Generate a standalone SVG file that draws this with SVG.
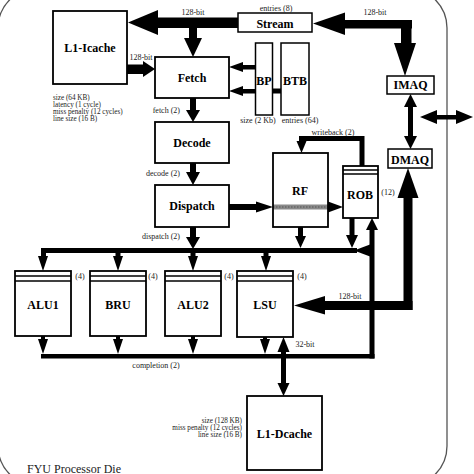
<svg xmlns="http://www.w3.org/2000/svg" width="474" height="474" viewBox="0 0 474 474">
<style>
.box{fill:#fff;stroke:#000;stroke-width:1.8}
.q{fill:none;stroke:#000;stroke-width:1.5}
.t{font-family:"Liberation Serif",serif;font-weight:bold;font-size:12px;fill:#000;text-anchor:middle}
.s{font-family:"Liberation Serif",serif;font-size:8px;fill:#222}
.i{font-size:7.2px}
.m{text-anchor:middle}
.e{text-anchor:end}
.k{fill:#000;stroke:none}
.w{fill:none;stroke:#000;stroke-width:5}
</style>
<rect width="474" height="474" fill="#fff"/>
<g id="die">
<path d="M38,-12 H407 A40,40 0 0 1 447,28 V446 A40,40 0 0 1 407,486 H38 A40,40 0 0 1 -2,446 V28 A40,40 0 0 1 38,-12 Z" fill="none" stroke="#555" stroke-width="1.3"/>
<text x="27" y="472.5" font-family="Liberation Serif,serif" font-size="12" fill="#222">FYU Processor Die</text>
</g>
<g id="connectors">
<rect class="k" x="157" y="17.5" width="82" height="10.5"/>
<polygon class="k" points="158,10 128,22.5 158,35"/>
<rect class="k" x="189" y="27" width="8" height="12"/>
<polygon class="k" points="184,38 202,38 193,57"/>
<rect class="k" x="127" y="64.5" width="17" height="9.5"/>
<polygon class="k" points="143,61 155,69 143,77"/>
<rect class="k" x="190" y="98" width="6" height="13"/>
<polygon class="k" points="186,110 200,110 193,122"/>
<rect class="k" x="190" y="163" width="6" height="10"/>
<polygon class="k" points="186,172 200,172 193,185"/>
<rect class="k" x="190" y="227" width="6" height="11"/>
<polygon class="k" points="186,237 200,237 193,249"/>
<rect class="k" x="41" y="248" width="316" height="5"/>
<polygon class="k" points="370,244.5 354,250.5 370,256.5"/>
<rect class="k" x="41" y="250" width="5" height="8"/>
<polygon class="k" points="38,256 48,256 43,271"/>
<rect class="k" x="115.5" y="250" width="5" height="8"/>
<polygon class="k" points="113,256 123,256 118,271"/>
<rect class="k" x="190.5" y="250" width="5" height="8"/>
<polygon class="k" points="188,256 198,256 193,271"/>
<rect class="k" x="263.5" y="250" width="5" height="8"/>
<polygon class="k" points="261,256 271,256 266,271"/>
<rect class="k" x="229" y="204" width="28" height="6"/>
<polygon class="k" points="256,201.5 256,212.5 273,207"/>
<rect x="273" y="204.5" width="55" height="5" fill="#8a8a8a"/>
<line x1="273" y1="207" x2="328" y2="207" stroke="#555" stroke-width="1.2" stroke-dasharray="1.5,1.5"/>
<polygon class="k" points="328,201.5 328,212.5 343,207"/>
<polyline class="w" points="362,166 362,138.5 301.5,138.5 301.5,142"/>
<polygon class="k" points="296.5,141 306.5,141 301.5,153"/>
<rect class="k" x="298" y="227" width="5" height="10"/>
<polygon class="k" points="295,236 306,236 300.5,248"/>
<rect class="k" x="349.5" y="218" width="5" height="18"/>
<polygon class="k" points="346,235 358,235 352,248"/>
<rect class="k" x="369.5" y="228" width="5" height="130.5"/>
<polygon class="k" points="366,230 378,230 372,218"/>
<rect class="k" x="41" y="354" width="333.5" height="4.5"/>
<rect class="k" x="41" y="336" width="4" height="5"/>
<polygon class="k" points="38,339 48,339 43,354"/>
<rect class="k" x="116" y="336" width="4" height="5"/>
<polygon class="k" points="113,339 123,339 118,354"/>
<rect class="k" x="191" y="336" width="4" height="5"/>
<polygon class="k" points="188,339 198,339 193,354"/>
<rect class="k" x="263" y="336" width="4" height="5"/>
<polygon class="k" points="260,339 270,339 265,354"/>
<rect class="k" x="281" y="350" width="5" height="34"/>
<polygon class="k" points="277.5,352 289.5,352 283.5,337"/>
<polygon class="k" points="277.5,383 289.5,383 283.5,396"/>
<rect class="k" x="242" y="65" width="14" height="4.5"/>
<polygon class="k" points="243,62 243,72 229,67"/>
<rect class="k" x="242" y="89" width="14" height="4.5"/>
<polygon class="k" points="243,86 243,96 229,91"/>
<rect class="k" x="272" y="88.5" width="9.5" height="5"/>
<rect class="k" x="344" y="20" width="68" height="8.5"/>
<polygon class="k" points="345,12.5 345,35 313,23.5"/>
<rect class="k" x="401" y="20" width="10.5" height="24"/>
<polygon class="k" points="394,43 416,43 405,76"/>
<rect class="k" x="408" y="106" width="5" height="31"/>
<polygon class="k" points="404,107 417,107 410.5,94"/>
<polygon class="k" points="404,136 417,136 410.5,149"/>
<polygon class="k" points="397.5,198 418.5,198 408,168"/>
<rect class="k" x="403.5" y="197" width="9" height="113"/>
<rect class="k" x="324" y="301" width="88.5" height="9"/>
<polygon class="k" points="325,296 325,314.5 294,305.5"/>
<rect class="k" x="436" y="115" width="22" height="4.5"/>
<polygon class="k" points="437,110 437,124 420,117"/>
<polygon class="k" points="456,110 456,124 473,117"/>
</g>
<g id="labels">
<text class="s m" x="193" y="15">128-bit</text>
<text class="s m" x="141" y="60">128-bit</text>
<text class="s m" x="276" y="10.5">entries (8)</text>
<text class="s m" x="375" y="14.5">128-bit</text>
<text class="s i" x="53" y="99.5">size (64 KB)</text>
<text class="s i" x="53" y="106.6">latency (1 cycle)</text>
<text class="s i" x="53" y="113.7">miss penalty (12 cycles)</text>
<text class="s i" x="53" y="120.8">line size (16 B)</text>
<text class="s e" x="180" y="112.5">fetch (2)</text>
<text class="s e" x="180" y="175.5">decode (2)</text>
<text class="s e" x="180" y="239">dispatch (2)</text>
<text class="s m" x="258" y="123">size (2 Kb)</text>
<text class="s m" x="300" y="123">entries (64)</text>
<text class="s m" x="333" y="135">writeback (2)</text>
<text class="s m" x="388" y="195">(12)</text>
<text class="s m" x="80" y="279">(4)</text>
<text class="s m" x="153" y="279">(4)</text>
<text class="s m" x="229" y="279">(4)</text>
<text class="s m" x="302" y="279">(4)</text>
<text class="s m" x="350" y="298.5">128-bit</text>
<text class="s m" x="305" y="347">32-bit</text>
<text class="s m" x="156" y="368">completion (2)</text>
<text class="s e i" x="242" y="422.5">size (128 KB)</text>
<text class="s e i" x="242" y="429.8">miss penalty (12 cycles)</text>
<text class="s e i" x="242" y="437.1">line size (16 B)</text>
</g>
<g id="l1icache"><rect class="box" x="53" y="11" width="74" height="73"/><text class="t" x="90" y="52">L1-Icache</text></g>
<g id="stream"><rect class="box" x="238" y="13" width="74" height="19" style="stroke-width:1.5"/><text class="t" x="275" y="27.5">Stream</text></g>
<g id="fetch"><rect class="box" x="155" y="57" width="74" height="41"/><text class="t" x="192" y="82">Fetch</text></g>
<g id="decode"><rect class="box" x="155" y="122" width="74" height="41"/><text class="t" x="192" y="147">Decode</text></g>
<g id="dispatch"><rect class="box" x="155" y="185" width="74" height="42"/><text class="t" x="192" y="210">Dispatch</text></g>
<g id="bp"><rect class="box" x="255.5" y="43" width="17" height="72" style="stroke-width:1.5"/><text class="t" x="264" y="85">BP</text></g>
<g id="btb"><rect class="box" x="281" y="43" width="28" height="72" style="stroke-width:1.5"/><text class="t" x="295" y="85">BTB</text></g>
<g id="imaq"><rect class="box" x="387" y="76" width="47" height="18" style="stroke-width:1.5"/><text class="t" x="410.5" y="88.5">IMAQ</text></g>
<g id="dmaq"><rect class="box" x="388" y="149" width="44" height="19" style="stroke-width:1.5"/><text class="t" x="410" y="163.5">DMAQ</text></g>
<g id="rf"><rect class="box" x="273" y="153" width="55" height="74" style="fill:none"/><text class="t" x="300" y="195">RF</text></g>
<g id="rob"><rect class="box" x="343" y="166" width="35" height="52"/><line class="q" x1="343" y1="170" x2="378" y2="170"/><line class="q" x1="343" y1="174" x2="378" y2="174"/><text class="t" x="360" y="199">ROB</text></g>
<g id="alu1"><rect class="box" x="15" y="271" width="56" height="65"/><line class="q" x1="15" y1="276" x2="71" y2="276"/><line class="q" x1="15" y1="281" x2="71" y2="281"/><text class="t" x="43" y="309">ALU1</text></g>
<g id="bru"><rect class="box" x="90" y="271" width="56" height="65"/><line class="q" x1="90" y1="276" x2="146" y2="276"/><line class="q" x1="90" y1="281" x2="146" y2="281"/><text class="t" x="118" y="309">BRU</text></g>
<g id="alu2"><rect class="box" x="165" y="271" width="56" height="65"/><line class="q" x1="165" y1="276" x2="221" y2="276"/><line class="q" x1="165" y1="281" x2="221" y2="281"/><text class="t" x="193" y="309">ALU2</text></g>
<g id="lsu"><rect class="box" x="237" y="271" width="56" height="66"/><line class="q" x1="237" y1="276" x2="293" y2="276"/><line class="q" x1="237" y1="281" x2="293" y2="281"/><text class="t" x="265" y="309">LSU</text></g>
<g id="l1dcache"><rect class="box" x="247" y="396" width="75" height="74"/><text class="t" x="284.5" y="438">L1-Dcache</text></g>
</svg>
